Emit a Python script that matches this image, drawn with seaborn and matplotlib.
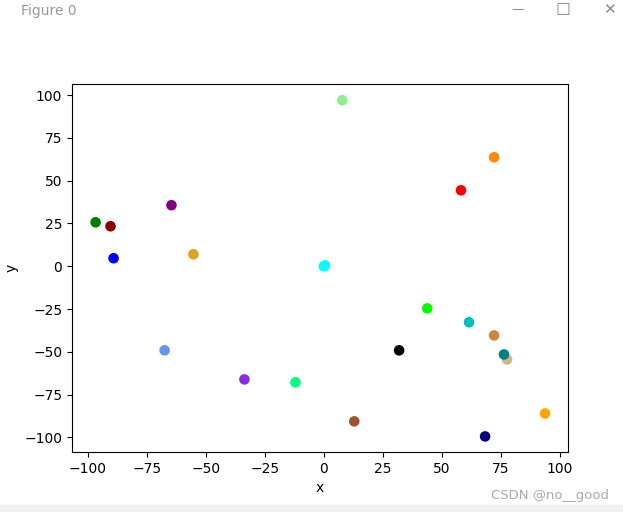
import pandas as pd
import matplotlib.pyplot as plt
import seaborn as sns

# Pontos
x_vals = [7.8, 72.1, 58.1, -96.6, -90.3, -64.5, -89.0, -55.2, 0.0, 0.5,
          43.8, 61.5, 72.1, 77.6, 76.3, 31.9, -67.4, -33.6, -12.0, 12.9, 93.7, 68.3]
y_vals = [97.0, 63.7, 44.4, 25.7, 23.4, 35.7, 4.7, 7.0, 0.0, 0.5,
          -24.6, -32.7, -40.4, -54.4, -51.5, -49.1, -49.1, -66.1, -67.8, -90.6, -86.0, -99.4]
cores = ['lightgreen', 'darkorange', 'red', 'green', 'darkred', 'purple', 'blue',
         'goldenrod', 'cyan', 'cyan', 'lime', 'c', 'peru', 'tan', 'teal', 'black',
         'cornflowerblue', 'blueviolet', 'springgreen', 'sienna', 'orange', 'navy']
ids = [f'p{i}' for i in range(len(x_vals))]

df = pd.DataFrame({'x': x_vals, 'y': y_vals, 'id': ids})

fig = plt.figure(figsize=(6.23, 5.12), dpi=100)
ax = fig.add_axes([72 / 623, 1 - 452 / 512, 496 / 623, 368 / 512])

sns.scatterplot(data=df, x='x', y='y', hue='id', palette=dict(zip(ids, cores)),
                s=58, linewidth=0, legend=False, ax=ax)

ax.set_xlim(-106.6, 103.4)
ax.set_ylim(-108.5, 106.5)
ax.set_xticks([-100, -75, -50, -25, 0, 25, 50, 75, 100])
ax.set_yticks([-100, -75, -50, -25, 0, 25, 50, 75, 100])
ax.set_xlabel('x')
ax.set_ylabel('y')

# barra da janela e marca d'agua
fig.text(21 / 623, 1 - 11 / 512, 'Figure 0', color='#999999', fontsize=10, va='center')
fig.text(518 / 623, 1 - 10 / 512, '—', color='#888888', fontsize=9, va='center', ha='center')
fig.text(563 / 623, 1 - 10 / 512, '☐', color='#888888', fontsize=12, va='center', ha='center')
fig.text(609 / 623, 1 - 10 / 512, '✕', color='#888888', fontsize=11, va='center', ha='center')
fig.text(609 / 623, 1 - 495 / 512, 'CSDN @no__good', color='#aaaaaa', fontsize=9.5,
         va='center', ha='right')
fig.patches.append(plt.Rectangle((0, 0), 1, 7 / 512, transform=fig.transFigure,
                                 color='#f0f0f0', zorder=0))

fig.savefig('out.png', dpi=100)
